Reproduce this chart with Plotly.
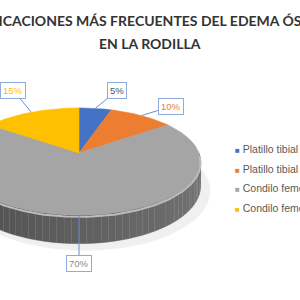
import numpy as np
import plotly.graph_objects as go

# ---- data ----
labels = ["Platillo tibial interno", "Platillo tibial externo",
          "Condilo femoral interno", "Condilo femoral externo"]
values = [5, 10, 70, 15]
label_text = ["5%", "10%", "70%", "15%"]
title_lines = ["UBICACIONES MÁS FRECUENTES DEL EDEMA ÓSEO", "EN LA RODILLA"]

# ---- style ----
colors = ["#4472C4", "#ED7D31", "#A5A5A5", "#FFC000"]
label_colors = ["#44546A", "#ED7D31", "#8C8C8C", "#FFC000"]
label_offsets = [(22, -18), (29, -9), (0, 48), (-18, -22)]

CX, CY = 79.0, 153.0      # apex of the pie
R, R2 = 120.0, 52.2       # horizontal / vertical radius
K = 0.159                 # perspective factor
DEPTH = 24.0              # wall thickness


def proj(theta_deg, r=1.0, h=0.0):
    t = np.radians(theta_deg)
    u = r * np.sin(t)
    v = r * np.cos(t)
    f = 1.0 / (1.0 + K * v)
    return CX + R * u * f, CY - R2 * v * f + h * f


fig = go.Figure()

# soft shadow
th = np.linspace(0, 360, 181)
sx, sy = proj(th, 1.03, DEPTH + 4)
fig.add_trace(go.Scatter(x=sx + 6, y=sy, fill="toself", mode="lines",
                         line=dict(width=0), fillcolor="rgba(0,0,0,0.06)",
                         hoverinfo="skip", showlegend=False))

# side wall (front half) in shaded strips
total = sum(values)
n_strips = 60
edges = np.linspace(90, 270, n_strips + 1)
for i in range(n_strips):
    a0, a1 = edges[i], edges[i + 1]
    arc = np.linspace(a0, a1, 4)
    tx, ty = proj(arc, 1.0, 0.0)
    bx, by = proj(arc[::-1], 1.0, DEPTH)
    frac = i / n_strips
    c = int(0x7A - (0x7A - 0x44) * frac)
    fig.add_trace(go.Scatter(x=np.r_[tx, bx], y=np.r_[ty, by], fill="toself",
                             mode="lines", line=dict(width=0.5, color=f"rgb({c},{c},{c})"),
                             fillcolor=f"rgb({c},{c},{c})",
                             hoverinfo="skip", showlegend=False))

# top faces
start = 0.0
mids = []
for val, col in zip(values, colors):
    span = 360.0 * val / total
    arc = np.linspace(start, start + span, max(int(span), 4))
    ax_, ay_ = proj(arc)
    fig.add_trace(go.Scatter(x=np.r_[CX, ax_, CX], y=np.r_[CY, ay_, CY], fill="toself",
                             mode="lines", line=dict(width=0.6, color=col),
                             fillcolor=col, hoverinfo="skip", showlegend=False))
    mids.append(start + span / 2)
    start += span

# bevel highlight along front rim
arc = np.linspace(92, 268, 120)
hx, hy = proj(arc, 1.0, 1.5)
fig.add_trace(go.Scatter(x=hx, y=hy, mode="lines", line=dict(width=2, color="#BDBDBD"),
                         hoverinfo="skip", showlegend=False))

annotations = []
# data labels with leader lines
for txt, mid, lc, (ox, oy) in zip(label_text, mids, label_colors, label_offsets):
    px, py = proj(mid)
    annotations.append(dict(x=px, y=py, xref="x", yref="y", text=txt,
                            showarrow=True, arrowhead=0, arrowwidth=1,
                            arrowcolor="#6F8FC9", ax=ox, ay=oy,
                            bordercolor="#8FAADC", borderwidth=1, borderpad=2,
                            bgcolor="white",
                            font=dict(family="Liberation Sans, Arial, sans-serif",
                                      size=9.5, color=lc)))

# title
for i, line in enumerate(title_lines):
    annotations.append(dict(x=150, y=20 + i * 23.5, xref="x", yref="y", text=f"<b>{line}</b>",
                            showarrow=False, xanchor="center", yanchor="middle",
                            font=dict(family="Lato, sans-serif",
                                      size=14, color="#333333")))

# legend
for i, (lab, col) in enumerate(zip(labels, colors)):
    annotations.append(dict(x=233, y=149 + i * 19.5, xref="x", yref="y",
                            text=f'<span style="color:{col};font-size:8px">■</span> {lab}',
                            showarrow=False, xanchor="left", yanchor="middle", align="left",
                            font=dict(family="Liberation Sans, Arial, sans-serif",
                                      size=10.5, color="#595959")))

fig.update_layout(
    width=300, height=300,
    margin=dict(l=0, r=0, t=0, b=0),
    paper_bgcolor="white", plot_bgcolor="white",
    xaxis=dict(range=[0, 300], visible=False, fixedrange=True),
    yaxis=dict(range=[300, 0], visible=False, fixedrange=True),
    annotations=annotations,
    showlegend=False,
)

fig.write_html("out.html")
